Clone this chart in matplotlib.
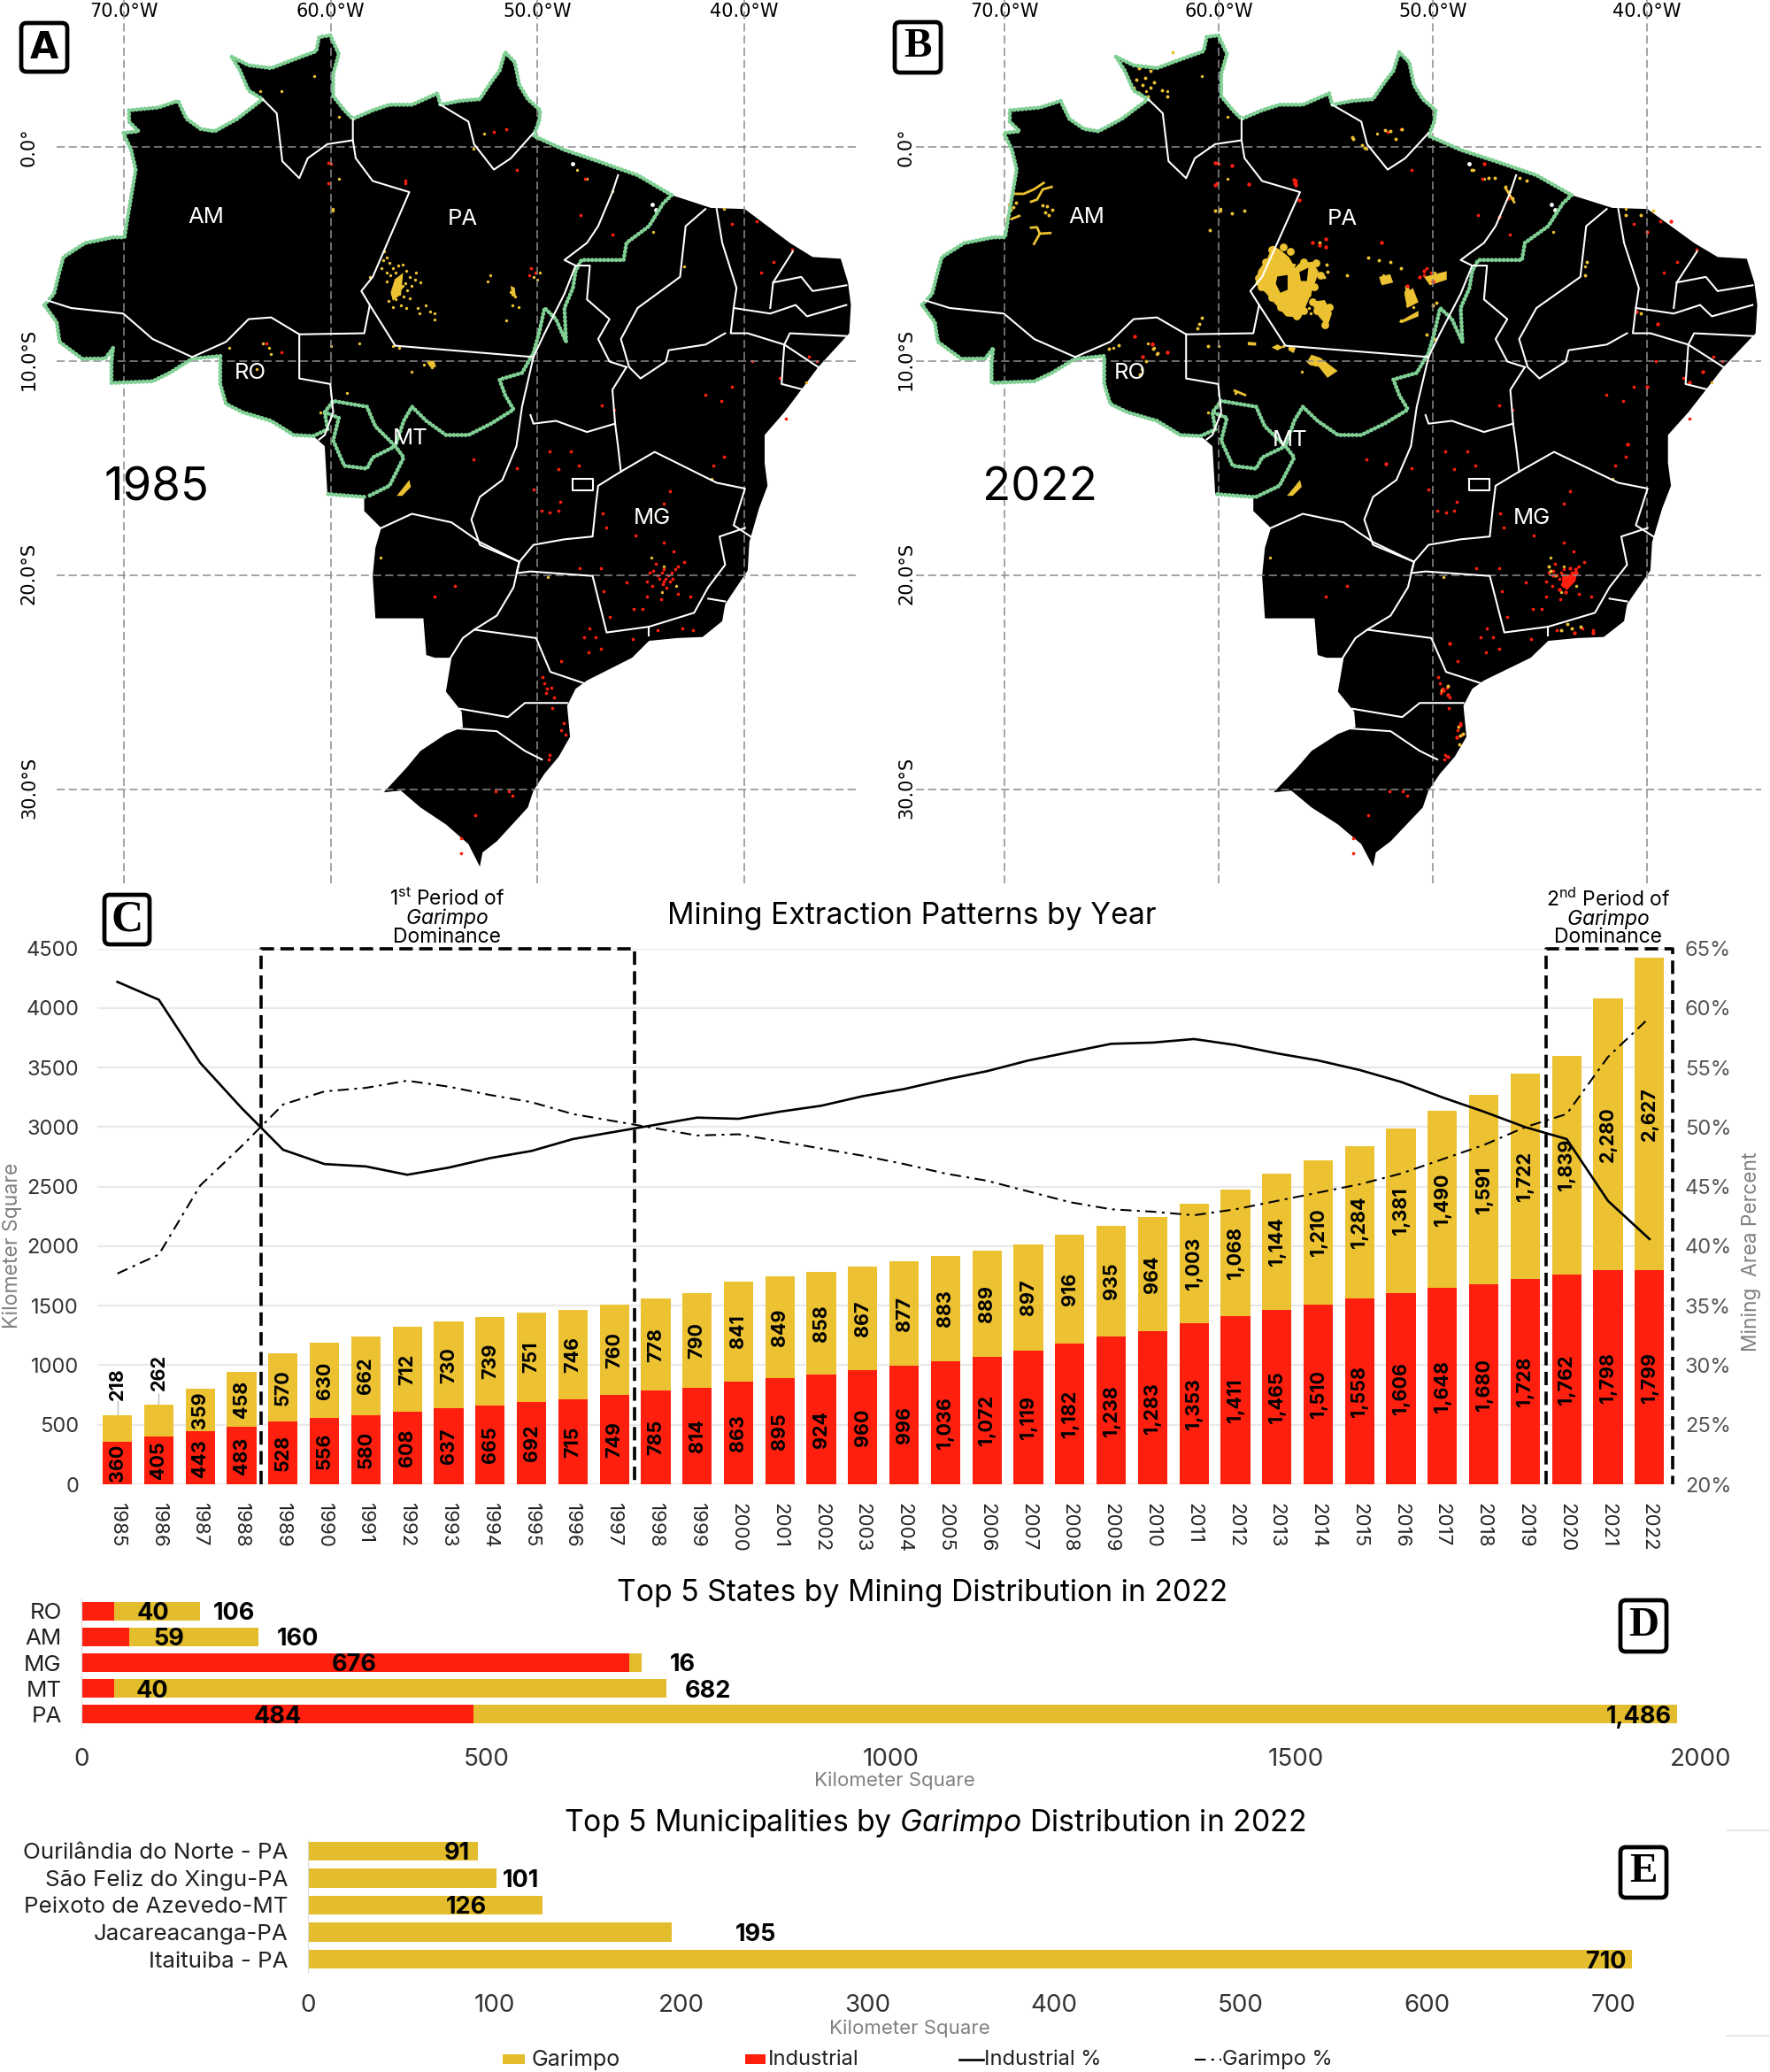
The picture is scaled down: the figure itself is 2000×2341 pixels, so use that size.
import matplotlib
matplotlib.use('Agg')
import matplotlib.pyplot as plt
from matplotlib.patches import FancyBboxPatch

plt.rcParams['font.family'] = ['Inter', 'DejaVu Sans']
plt.rcParams['mathtext.fontset'] = 'custom'
plt.rcParams['mathtext.rm'] = 'Inter'
plt.rcParams['mathtext.it'] = 'Inter:italic'
plt.rcParams['mathtext.bf'] = 'Inter:bold'

W, H = 2000, 2341
YELLOW = '#ECC232'
YELLOW2 = '#E3BD2D'
RED = '#FF1F0E'
GREEN = '#80CF94'
GRAY = '#808080'

# ---------- chart C data
years = list(range(1985, 2023))
industrial = [360, 405, 443, 483, 528, 556, 580, 608, 637, 665, 692, 715, 749, 785, 814, 863, 895, 924, 960,
              996, 1036, 1072, 1119, 1182, 1238, 1283, 1353, 1411, 1465, 1510, 1558, 1606, 1648, 1680, 1728,
              1762, 1798, 1799]
garimpo = [218, 262, 359, 458, 570, 630, 662, 712, 730, 739, 751, 746, 760, 778, 790, 841, 849, 858, 867,
           877, 883, 889, 897, 916, 935, 964, 1003, 1068, 1144, 1210, 1284, 1381, 1490, 1591, 1722,
           1839, 2280, 2627]
industrial_pct = [62.2, 60.7, 55.4, 51.6, 48.1, 46.9, 46.7, 46.0, 46.6, 47.4, 48.0, 49.0, 49.6, 50.2, 50.8,
                  50.7, 51.3, 51.8, 52.6, 53.2, 54.0, 54.7, 55.6, 56.3, 57.0, 57.1, 57.4, 56.9, 56.2, 55.6,
                  54.8, 53.8, 52.5, 51.3, 50.0, 49.0, 43.8, 40.6]
garimpo_pct = [37.7, 39.3, 45.1, 48.4, 51.9, 53.0, 53.3, 53.9, 53.4, 52.7, 52.1, 51.1, 50.5, 49.9, 49.3,
               49.4, 48.8, 48.2, 47.6, 46.9, 46.1, 45.5, 44.6, 43.7, 43.1, 42.9, 42.6, 43.1, 43.8, 44.5,
               45.2, 46.1, 47.3, 48.5, 50.0, 51.1, 55.9, 59.2]

# ---------- charts D, E data
states = ['PA', 'MT', 'MG', 'AM', 'RO']
state_industrial = [484, 40, 676, 59, 40]
state_garimpo = [1486, 682, 16, 160, 106]
state_ind_label_x = [242, 87, 337, 108, 88]
state_gar_label_x = [1923, 774, 743, 267, 188]

municipalities = ['Itaituiba - PA', 'Jacareacanga-PA', 'Peixoto de Azevedo-MT', 'São Feliz do Xingu-PA',
                  'Ourilândia do Norte - PA']
muni_garimpo = [710, 195, 126, 101, 91]
muni_label_x = [696, 240, 85, 114, 80]

# ---------- map data, lon/lat
brazil_outline = [
    (-73.85, -7.4), (-73.38, -6.88), (-73.11, -5.82), (-72.92, -5.16), (-71.88, -4.51), (-70.52, -4.24), (-69.97, -4.24),
    (-69.84, -3.45), (-69.43, -1.08), (-69.65, -0.16), (-70.03, 0.63), (-69.29, 0.71), (-69.75, 1.16), (-69.75, 1.69),
    (-68.34, 1.82), (-67.38, 2.13), (-66.97, 1.29), (-66.29, 0.82), (-65.61, 0.71), (-64.52, 1.29), (-63.29, 2.21),
    (-63.97, 2.61), (-64.38, 3.53), (-64.79, 4.19), (-63.97, 3.79), (-62.88, 3.66), (-61.79, 4.06), (-60.7, 4.45),
    (-60.56, 5.11), (-60.02, 5.19), (-59.61, 4.32), (-59.88, 3.4), (-59.88, 2.35), (-59.34, 1.69), (-58.93, 1.29),
    (-57.97, 1.69), (-57.16, 1.95), (-56.07, 1.95), (-54.84, 2.48), (-54.7, 1.95), (-53.75, 2.13), (-52.79, 2.21),
    (-52.25, 3.0), (-51.84, 3.53), (-51.57, 4.4), (-51.1, 3.93), (-50.88, 2.87), (-50.47, 2.21), (-49.87, 1.69),
    (-49.93, 1.16), (-50.2, 0.5), (-48.7, -0.16), (-47.07, -0.69), (-45.16, -1.34), (-43.52, -2.27), (-41.61, -2.87),
    (-39.98, -2.92), (-37.79, -4.51), (-36.7, -5.16), (-35.34, -5.24), (-34.99, -6.35), (-34.85, -7.4), (-34.93, -8.72),
    (-36.43, -10.3), (-37.25, -11.36), (-38.07, -12.41), (-39.02, -13.47), (-39.02, -14.78), (-38.88, -15.84),
    (-39.29, -16.89), (-39.76, -18.47), (-39.84, -19.79), (-40.93, -21.37), (-41.07, -22.16), (-42.02, -22.9),
    (-43.25, -22.95), (-44.61, -23.08), (-45.43, -23.87), (-47.61, -24.93), (-48.16, -25.32), (-48.57, -26.11),
    (-48.43, -27.56), (-48.97, -28.48), (-49.66, -29.28), (-50.2, -30.07), (-50.47, -30.86), (-51.97, -32.44),
    (-52.66, -32.96), (-52.79, -33.62), (-53.34, -32.57), (-54.43, -31.65), (-55.66, -30.86), (-56.61, -30.07),
    (-57.43, -30.15), (-56.34, -29.01), (-55.66, -28.22), (-54.43, -27.43), (-53.61, -27.11), (-53.67, -26.38),
    (-54.43, -25.45), (-54.16, -23.87), (-54.97, -23.87), (-55.38, -23.74), (-55.52, -22.03), (-57.84, -22.03),
    (-57.97, -20.05), (-57.84, -18.74), (-57.56, -17.81), (-58.38, -17.02), (-58.38, -16.36), (-60.16, -16.23),
    (-60.29, -13.99), (-60.84, -13.52), (-61.79, -13.47), (-62.88, -12.81), (-64.25, -12.41), (-65.06, -12.02),
    (-65.34, -11.09), (-65.34, -9.78), (-66.7, -9.91), (-67.79, -10.57), (-68.61, -10.96), (-70.6, -11.04),
    (-70.6, -10.04), (-70.52, -9.4), (-70.9, -9.9), (-72.02, -9.91), (-73.11, -9.12), (-73.25, -8.2),
]
north_end = brazil_outline.index((-43.52, -2.27))
south_start = brazil_outline.index((-60.84, -13.52))

amazon_borders = [
    brazil_outline[:north_end + 1],
    brazil_outline[south_start:] + brazil_outline[:1],
    [(-60.84, -13.52), (-60.15, -13.2), (-60.29, -12.41)],
    [(-58.38, -16.36), (-60.16, -16.23)],
    [(-43.52, -2.27), (-43.93, -2.66), (-44.61, -3.72), (-45.7, -4.5), (-45.84, -5.3), (-47.88, -5.3),
     (-48.16, -5.82), (-48.29, -6.61), (-48.7, -7.54), (-48.62, -9.12), (-49.11, -8.06), (-49.66, -7.54),
     (-49.93, -8.72), (-50.2, -9.64), (-50.75, -10.57), (-51.84, -10.88), (-51.56, -11.62), (-51.16, -12.28),
     (-52.25, -12.94), (-53.34, -13.47), (-54.43, -13.47), (-55.38, -12.81), (-56.07, -12.15), (-56.47, -12.81),
     (-56.88, -13.99), (-56.47, -14.52), (-57.16, -15.84), (-58.25, -16.36)],
    [(-56.88, -13.99), (-57.97, -14.52), (-58.25, -15.04), (-59.34, -14.91), (-59.88, -13.73), (-59.61, -12.67),
     (-60.29, -12.41), (-59.88, -11.88), (-58.25, -12.15), (-57.84, -13.07), (-56.88, -13.99)],
]

state_borders = [
    [(-63.29, 2.21), (-62.61, 1.55), (-62.34, -0.69), (-61.52, -1.48), (-61.11, -0.55), (-60.16, 0.11),
     (-58.93, 0.29), (-58.93, 1.29)],
    [(-54.7, 1.95), (-53.34, 1.16), (-53.07, 0.11), (-52.11, -1.08), (-51.29, -0.55), (-50.2, 0.63)],
    [(-58.93, 0.29), (-58.79, -0.55), (-57.97, -1.61), (-56.2, -2.13), (-57.97, -6.09), (-58.52, -6.75),
     (-58.11, -7.4), (-58.38, -8.72), (-61.52, -8.77), (-62.88, -7.98), (-63.97, -8.06), (-65.06, -9.12),
     (-66.7, -9.83)],
    [(-73.85, -7.14), (-72.56, -7.54), (-70.03, -7.8), (-68.61, -8.99), (-66.7, -9.83)],
    [(-61.52, -8.77), (-61.52, -10.83), (-60.02, -11.09), (-59.88, -12.41), (-60.29, -13.47), (-60.56, -13.68)],
    [(-58.11, -7.4), (-56.88, -9.3), (-50.2, -9.83)],
    [(-50.2, -9.83), (-49.66, -8.72), (-48.7, -6.88), (-48.16, -5.56), (-48.7, -5.3), (-47.61, -4.5),
     (-47.07, -3.72), (-46.38, -2.13), (-46.11, -1.34)],
    [(-50.2, -9.83), (-50.75, -12.15), (-51.02, -13.99), (-51.7, -15.57), (-52.79, -16.36), (-53.2, -17.42),
     (-52.79, -18.6), (-50.88, -19.39)],
    [(-48.16, -5.56), (-47.47, -5.56), (-47.61, -7.14), (-46.52, -8.06), (-47.07, -8.99), (-46.52, -10.04),
     (-45.7, -10.3)],
    [(-41.88, -2.92), (-42.84, -3.72), (-43.11, -6.09), (-45.16, -7.54), (-45.97, -8.99), (-45.57, -10.3),
     (-45.02, -10.83), (-43.79, -10.04), (-43.66, -9.51), (-41.88, -9.25), (-40.93, -8.72)],
    [(-45.7, -10.3), (-46.38, -11.36), (-46.25, -12.94), (-46.11, -13.99), (-45.97, -15.18)],
    [(-50.34, -12.54), (-50.2, -12.94), (-49.11, -12.81), (-47.61, -13.33), (-46.25, -12.94)],
    [(-45.97, -15.18), (-44.34, -14.26), (-43.25, -14.78), (-41.34, -15.7), (-39.97, -15.97), (-40.52, -17.68),
     (-39.7, -18.21)],
    [(-45.97, -15.18), (-47.07, -15.84), (-47.2, -16.89), (-47.34, -18.21), (-48.7, -18.34), (-50.2, -18.6),
     (-50.88, -19.39), (-51.02, -19.92), (-50.34, -19.84), (-47.34, -20.05), (-46.66, -22.69), (-44.61, -22.42),
     (-42.43, -21.77), (-41.75, -20.58), (-40.93, -19.53), (-41.2, -18.21), (-39.97, -17.81)],
    [(-41.75, -21.11), (-40.93, -21.24)],
    [(-57.56, -17.81), (-56.07, -17.15), (-54.16, -17.55), (-52.79, -18.47), (-50.88, -19.39), (-51.16, -20.58),
     (-51.97, -21.9), (-53.06, -22.56), (-53.61, -22.95), (-54.29, -24.0)],
    [(-53.06, -22.56), (-50.07, -22.95), (-49.38, -24.53), (-47.75, -25.06)],
    [(-44.61, -22.82), (-44.61, -22.42)],
    [(-53.75, -26.25), (-51.43, -26.64), (-50.61, -25.98), (-48.57, -25.98)],
    [(-53.88, -27.17), (-51.97, -27.3), (-50.61, -28.22), (-49.79, -28.62)],
    [(-41.34, -2.92), (-41.07, -4.5), (-40.38, -6.61), (-40.52, -7.54), (-38.75, -7.8), (-37.52, -7.4),
     (-36.97, -7.93), (-35.07, -7.4)],
    [(-37.66, -4.9), (-38.61, -6.35), (-38.75, -7.54)],
    [(-38.61, -6.35), (-37.25, -6.09), (-36.7, -6.75), (-35.07, -6.48)],
    [(-40.52, -7.54), (-40.66, -8.72), (-39.84, -8.72), (-38.07, -9.25), (-36.43, -10.3)],
    [(-38.07, -9.25), (-37.8, -8.72), (-35.07, -8.85)],
    [(-38.07, -9.25), (-38.2, -11.09), (-37.11, -11.36)],
    [(-48.29, -15.52), (-47.34, -15.52), (-47.34, -16.05), (-48.29, -16.05), (-48.29, -15.52)],
]

yellow_1985 = [(-57.43, -4.9), (-57.16, -5.43), (-57.56, -5.69), (-56.75, -5.56), (-56.34, -5.82), (-55.93, -6.22),
               (-55.66, -6.35), (-56.88, -6.22), (-56.61, -6.61), (-57.02, -6.88), (-56.47, -7.0), (-56.88, -7.14),
               (-56.34, -7.54), (-55.79, -7.54), (-54.97, -8.06), (-58.1, -6.09), (-57.3, -5.2), (-57.0, -5.7),
               (-56.6, -6.1), (-56.4, -6.4), (-56.9, -6.6), (-56.7, -6.9), (-56.5, -6.5), (-55.9, -5.9),
               (-57.3, -6.3), (-57.2, -7.2), (-55.2, -7.7), (-55.4, -7.4), (-57.45, -5.3), (-57.3, -5.9),
               (-57.1, -6.0), (-56.85, -5.9), (-56.5, -5.5), (-56.2, -6.1), (-56.1, -6.5), (-56.3, -6.7),
               (-56.2, -7.1), (-56.6, -7.4), (-57.0, -7.5), (-55.7, -7.8), (-55.0, -7.8), (-52.3, -6.0), (-52.4, -6.3),
               (-51.3, -6.8), (-51.1, -7.0), (-51.2, -7.4), (-50.9, -7.5), (-51.5, -8.1), (-50.2, -6.1),
               (-49.9, -5.9), (-50.0, -6.2), (-57.0, -9.3), (-56.7, -9.4), (-55.3, -10.0), (-55.1, -10.3),
               (-55.5, -10.2), (-56.1, -10.5), (-64.9, -9.4), (-63.0, -9.4), (-62.9, -9.7), (-63.3, -9.2),
               (-63.6, -10.4), (-60.0, -9.3), (-58.6, -9.2), (-59.2, -11.5), (-59.6, -1.5), (-59.9, -2.9),
               (-59.9, -3.0), (-60.8, 3.3), (-62.4, 2.6), (-63.4, 2.6), (-59.6, 1.4), (-52.6, 0.6), (-53.1, -0.1),
               (-46.4, -2.1), (-47.6, -1.5), (-48.1, -1.1), (-42.9, -5.6), (-44.4, -4.0), (-41.0, -2.9),
               (-37.0, -11.0), (-57.6, -19.2), (-60.5, -12.4), (-49.5, -20.1), (-43.9, -19.6), (-44.5, -19.2),
               (-44.0, -20.8), (-43.3, -20.5), (-41.6, -15.5)]
yellow_1985_blobs = [
    [(-56.81, -16.31), (-56.2, -15.57), (-56.12, -15.89), (-56.54, -16.31)],
    [(-56.9, -6.2), (-56.5, -5.9), (-56.6, -6.9), (-57.0, -7.2), (-57.1, -6.8)],
    [(-51.3, -6.5), (-51.1, -6.6), (-51.05, -7.0), (-51.25, -7.0)],
    [(-55.4, -10.0), (-55.0, -10.0), (-54.9, -10.3), (-55.2, -10.3)],
]
red_common = [(-43.82, -20.17), (-43.96, -20.44), (-43.75, -20.58), (-43.48, -20.17), (-43.34, -19.75), (-43.2, -19.61),
              (-44.3, -19.48), (-43.89, -19.75), (-44.44, -20.51), (-45.68, -20.37), (-46.92, -19.68), (-47.96, -19.68),
              (-46.79, -20.78), (-44.92, -21.61), (-44.03, -21.13), (-45.34, -21.61), (-43.89, -16.66), (-46.86, -17.14),
              (-45.27, -18.17), (-43.89, -18.51), (-43.41, -18.9), (-48.99, -15.08), (-48.37, -14.25), (-49.41, -14.25),
              (-44.58, -19.89), (-44.72, -20.3), (-42.92, -19.41), (-46.51, -21.95), (-47.48, -22.5), (-47.75, -22.92),
              (-47.2, -22.92), (-47.54, -23.6), (-46.92, -23.47), (-48.86, -24.02), (-49.75, -24.77), (-49.54, -25.32),
              (-49.2, -25.74), (-49.34, -25.25), (-49.61, -25.53), (-49.68, -25.05), (-49.27, -26.22), (-48.72, -26.91),
              (-48.86, -27.25), (-48.65, -27.46), (-49.41, -28.42), (-49.48, -28.62), (-52.03, -30.1), (-44.2, -20.0),
              (-44.0, -19.9), (-43.7, -20.0), (-43.6, -20.3), (-44.1, -20.2), (-43.9, -20.3), (-44.4, -19.8),
              (-43.5, -19.9), (-44.7, -21.0), (-43.2, -20.9), (-42.6, -21.0), (-43.0, -22.5), (-42.5, -22.6),
              (-44.2, -22.6), (-45.4, -23.0), (-48.0, -14.9), (-49.0, -17.0), (-50.2, -16.0), (-49.8, -17.0),
              (-49.4, -17.1), (-48.9, -16.6), (-50.1, -5.9), (-50.3, -5.7), (-50.4, -6.0), (-51.0, -1.1), (-52.1, 0.7),
              (-51.5, 0.8), (-47.9, -3.2), (-46.4, -4.1), (-47.7, -1.5), (-40.6, -11.2), (-41.1, -11.9), (-41.9, -11.6),
              (-39.6, -10.0), (-38.3, -10.8), (-36.9, -9.8), (-36.5, -10.0), (-38.0, -12.7), (-39.4, -3.5), (-38.6, -5.4),
              (-37.7, -4.8), (-39.2, -5.9), (-40.6, -3.6), (-46.3, -12.3), (-46.9, -12.1), (-41.0, -14.5), (-41.5, -14.9),
              (-51.0, -15.0), (-53.1, -14.6), (-56.4, -1.6), (-56.4, -1.7), (-60.1, -0.75), (-60.0, -0.8), (-60.1, -1.7),
              (-63.1, -9.2), (-62.4, -9.6), (-54.0, -20.5), (-55.0, -21.0), (-53.0, -31.2), (-53.7, -33.0), (-53.7, -32.3),
              (-51.4, -30.1), (-51.2, -30.3), (-43.6, -16.1), (-46.7, -17.8)]

red_2022 = [(-56.46, -1.7), (-56.5, -1.55), (-56.4, -1.8), (-56.23, -2.52), (-60.15, -0.76), (-59.4, -0.9), (-58.6, -1.75),
            (-60.15, -1.8), (-63.94, -8.86), (-63.09, -9.23), (-62.4, -9.61), (-63.57, -9.82), (-55.0, -4.3), (-55.3, -4.6),
            (-55.6, -4.5), (-55.0, -4.7), (-52.4, -4.5), (-51.2, -6.5), (-50.4, -5.8), (-50.0, -6.3), (-50.6, -6.1),
            (-47.6, -0.8), (-46.5, -2.4), (-46.9, -3.3), (-40.0, -4.0), (-38.9, -3.5), (-40.5, -7.7), (-39.5, -8.3),
            (-38.0, -11.0), (-37.4, -10.5), (-40.0, -11.2), (-40.9, -13.9), (-52.2, -14.8), (-43.9, -20.0), (-44.4, -20.0),
            (-43.3, -19.9), (-43.6, -19.7), (-44.1, -20.7), (-43.8, -20.8), (-49.2, -23.2), (-49.5, -25.4), (-49.3, -25.6),
            (-48.7, -27.0), (-48.9, -27.6), (-49.3, -28.5), (-42.5, -22.7), (-43.4, -22.7)]
yellow_2022 = [(-63.7, 3.66), (-63.18, 3.53), (-63.84, 3.14), (-63.57, 2.87), (-63.18, 2.74), (-62.65, 2.61), (-62.39, 2.35),
               (-63.31, 2.35), (-63.97, 2.74), (-62.13, 4.4), (-63.45, 3.2), (-63.0, 3.0), (-63.7, 2.5),
               (-68.21, -2.73), (-68.0, -2.8), (-67.75, -2.94), (-67.93, -3.21), (-68.1, -3.08), (-69.79, -2.69),
               (-69.45, -2.62), (-69.59, -2.83), (-69.72, -2.94), (-69.86, -3.31), (-52.25, 0.76), (-51.98, 0.71),
               (-51.72, 0.37), (-51.46, 0.82), (-53.17, -0.08), (-53.3, 0.05), (-53.78, 0.45), (-53.7, 0.35), (-46.45, -2.13),
               (-46.3, -2.4), (-46.6, -1.9), (-47.38, -1.48), (-47.1, -1.45), (-48.17, -1.08), (-45.93, -1.48), (-45.6, -1.6),
               (-65.11, -9.45), (-63.04, -9.45), (-62.84, -9.66), (-63.39, -10.0), (-63.66, -10.62), (-64.66, -9.28),
               (-55.3, -4.5), (-55.1, -6.1), (-54.95, -5.5), (-54.9, -5.85), (-54.0, -6.0), (-60.15, -3.0), (-59.95, -3.0),
               (-59.4, -3.1), (-58.8, -3.0), (-60.4, -3.9), (-61.0, -8.5), (-60.8, -8.0), (-60.9, -8.3), (-60.5, -9.3),
               (-53.0, -5.2), (-52.5, -5.3), (-52.0, -5.4), (-51.5, -5.7), (-51.0, -7.3), (-49.85, -7.3), (-50.0, -7.4),
               (-50.3, -8.8), (-49.9, -9.0), (-48.7, -27.5), (-48.8, -27.1), (-48.75, -27.9), (-48.6, -27.4), (-49.3, -25.2),
               (-49.6, -25.4), (-43.1, -22.4), (-43.5, -22.5), (-44.0, -22.6), (-43.7, -22.3), (-44.6, -19.6), (-44.5, -19.8),
               (-44.3, -20.0), (-40.3, -3.2), (-39.7, -3.0), (-41.0, -3.2), (-42.8, -5.4), (-42.9, -6.0), (-40.3, -7.8)]
yellow_2022_edge = [(-56.98, -4.69), (-56.64, -4.9), (-56.02, -5.38), (-55.47, -5.45), (-55.26, -6.0), (-55.54, -6.55),
                    (-55.88, -6.9), (-56.02, -7.66), (-56.36, -7.93), (-57.12, -7.52), (-57.53, -7.03), (-58.02, -6.55),
                    (-58.15, -6.14), (-57.81, -5.38), (-57.53, -4.83), (-57.12, -5.45), (-57.67, -6.14), (-57.05, -7.24),
                    (-55.61, -7.24), (-54.85, -7.52), (-55.05, -8.34), (-55.4, -7.66)]
yellow_2022_blobs = [
    # Tapajos
    [(-57.47, -4.62), (-57.74, -5.24), (-58.15, -5.79), (-58.29, -6.41), (-57.81, -6.83), (-57.4, -7.31), (-56.85, -7.93),
     (-56.16, -8.0), (-55.95, -7.52), (-55.61, -6.69), (-55.47, -6.28), (-55.33, -5.86), (-55.61, -5.38), (-56.23, -5.45),
     (-56.43, -5.66), (-56.71, -5.17), (-57.12, -4.83)],
    [(-55.61, -7.24), (-55.05, -7.17), (-54.71, -7.79), (-54.92, -8.41), (-55.33, -7.93), (-55.54, -7.59)],
    [(-55.88, -10.07), (-55.67, -9.72), (-55.26, -9.86), (-54.44, -10.48), (-54.92, -10.8), (-55.33, -10.28), (-55.74, -10.21)],
    [(-57.53, -9.38), (-57.26, -9.24), (-56.98, -9.38), (-57.26, -9.52)],
    [(-56.71, -9.3), (-56.4, -9.4), (-56.5, -9.65), (-56.75, -9.5)],
    [(-58.64, -9.12), (-58.25, -9.15), (-58.25, -9.3), (-58.6, -9.28)],
    [(-52.51, -6.09), (-51.99, -5.96), (-51.85, -6.35), (-52.38, -6.48)],
    [(-51.33, -6.88), (-50.93, -6.61), (-50.67, -7.27), (-51.2, -7.54)],
    [(-51.59, -8.19), (-50.67, -7.67), (-50.67, -7.93), (-51.46, -8.25)],
    [(-50.41, -6.09), (-49.35, -5.82), (-49.35, -6.22), (-50.14, -6.48)],
]
black_2022_holes = [
    [(-57.26, -6.07), (-56.78, -6.0), (-56.78, -6.69), (-57.12, -6.83), (-57.33, -6.41)],
    [(-56.23, -5.86), (-55.81, -5.66), (-55.88, -6.28), (-56.16, -6.28)],
]
red_2022_blobs = [[(-43.96, -20.03), (-43.48, -19.96), (-43.2, -19.55), (-43.34, -20.3), (-43.69, -20.65), (-43.96, -20.58)]]
rivers_2022 = [
    [(-69.52, -2.21), (-69.1, -2.21), (-68.62, -2.0), (-68.17, -1.7)],
    [(-68.76, -2.58), (-68.48, -2.48), (-68.21, -2.0), (-67.8, -1.89)],
    [(-69.66, -3.38), (-69.31, -3.24)],
    [(-68.76, -3.79), (-68.48, -3.77), (-68.35, -4.07), (-68.62, -4.55)],
    [(-68.35, -4.07), (-67.86, -4.04)],
    [(-59.25, -11.4), (-58.77, -11.6)],
    [(-46.6, -1.95), (-46.2, -2.6)],
]
lon_ticks = [-70, -60, -50, -40]
lat_ticks = [0, -10, -20, -30]


def px_axes(fig, left, top, right, bottom, **kw):
    return fig.add_axes([left / W, 1 - bottom / H, (right - left) / W, (bottom - top) / H], **kw)


def draw_map(fig, frame_l, x70, px_per_deg, late, grid_l, grid_r):
    ax = px_axes(fig, frame_l, 0, frame_l + 1000, 1000)
    ax.set_xlim(-70 + (frame_l - x70) / px_per_deg, -70 + (frame_l + 1000 - x70) / px_per_deg)
    ax.set_ylim(165.5 / 24.2 - 1000 / 24.2, 165.5 / 24.2)
    ax.axis('off')
    ax.fill(*zip(*brazil_outline), color='black', lw=0, zorder=1)
    # small gaps in the coast
    ax.scatter([-44.45, -44.3, -48.3], [-2.7, -2.95, -0.8], s=12, color='white', lw=0, zorder=2)
    for blob in yellow_1985_blobs:
        ax.fill(*zip(*blob), color=YELLOW, lw=0, zorder=3)
    ax.scatter(*zip(*yellow_1985), s=6, color=YELLOW, lw=0, zorder=3)
    ax.scatter(*zip(*red_common), s=7, color=RED, lw=0, zorder=3)
    if late:
        for blob in yellow_2022_blobs:
            ax.fill(*zip(*blob), color=YELLOW, lw=0, zorder=3)
        for blob in black_2022_holes:
            ax.fill(*zip(*blob), color='black', lw=0, zorder=3)
        for blob in red_2022_blobs:
            ax.fill(*zip(*blob), color=RED, lw=0, zorder=3)
        for line in rivers_2022:
            ax.plot(*zip(*line), color=YELLOW, lw=2, zorder=3)
        ax.scatter(*zip(*yellow_2022), s=8, color=YELLOW, lw=0, zorder=3)
        ax.scatter(*zip(*yellow_2022_edge), s=40, color=YELLOW, lw=0, zorder=3)
        ax.scatter(*zip(*red_2022), s=10, color=RED, lw=0, zorder=3)
    glon0 = -70 + (grid_l - x70) / px_per_deg
    glon1 = -70 + (grid_r - x70) / px_per_deg
    y0, y1 = ax.get_ylim()
    for lon in lon_ticks:
        ax.plot([lon, lon], [y0 + 0.1, y1], color='#8C8C8C', lw=1.1, ls=(0, (6, 3)), zorder=4)
    for lat in lat_ticks:
        ax.plot([glon0, glon1], [lat, lat], color='#8C8C8C', lw=1.1, ls=(0, (6, 3)), zorder=4)
    for line in amazon_borders:
        ax.plot(*zip(*line), color=GREEN, lw=3.4, ls=(0, (0.1, 0.85)), dash_capstyle='round', zorder=5, clip_on=False)
    for line in state_borders:
        ax.plot(*zip(*line), color='white', lw=1.5, zorder=6)
    for lon in lon_ticks:
        ax.text(lon, 6.32, f'{abs(lon):.1f}°W', family='DejaVu Sans', fontsize=15, ha='center', va='center')
    return ax


def letter_box(ov, left, top, right, bottom, letter, family='DejaVu Sans', size=30):
    ov.add_patch(FancyBboxPatch((left + 6, top + 6), right - left - 12, bottom - top - 12,
                                boxstyle='round,pad=5,rounding_size=6', fc='white', ec='black', lw=3.4, zorder=20))
    ov.text((left + right) / 2, (top + bottom) / 2, letter, family=family, weight='bold', fontsize=size,
            ha='center', va='center', zorder=21)


def main():
    fig = plt.figure(figsize=(W / 100, H / 100), dpi=100)

    draw_map(fig, 0, 140, 23.37, False, 64, 968)
    draw_map(fig, 1000, 1135, 24.2, True, 1035, 1990)

    # ---------- chart C
    ax = px_axes(fig, 110, 1071.7, 1890, 1677)
    x = list(range(len(years)))
    ax.bar(x, industrial, 0.71, color=RED, zorder=2)
    ax.bar(x, garimpo, 0.71, bottom=industrial, color=YELLOW, zorder=2)
    ax.set_xlim(-0.485, 37.56)
    ax.set_ylim(0, 4500)
    ax.set_yticks(range(0, 4501, 500))
    ax.grid(axis='y', color='#E9E9E9', lw=1.6, zorder=0)
    ax.set_axisbelow(True)
    ax.set_xticks(x)
    ax.set_xticklabels(years, rotation=-90, fontsize=16, color='#222222')
    ax.tick_params(axis='both', length=0)
    ax.tick_params(axis='x', pad=15)
    ax.tick_params(axis='y', labelsize=17, labelcolor='#333333', pad=15)
    for s in ax.spines.values():
        s.set_visible(False)

    for i in x:
        a, b = industrial[i], garimpo[i]
        ax.text(i, a / 2, f'{a:,}', rotation=90, ha='center', va='center', fontsize=15.5, weight='bold', zorder=6)
        by = a + b / 2
        if i == 0:
            by = 843
            ax.plot([i, i], [a + b, 700], color='#BBBBBB', lw=1, zorder=1)
        if i == 1:
            by = 937
            ax.plot([i, i], [a + b, 760], color='#BBBBBB', lw=1, zorder=1)
        ax.text(i, by, f'{b:,}', rotation=90, ha='center', va='center', fontsize=15.5, weight='bold', zorder=6)

    ax2 = ax.twinx()
    ax2.set_ylim(20, 65)
    ax2.set_yticks(range(20, 66, 5))
    ax2.set_yticklabels([f'{v}%' for v in range(20, 66, 5)], fontsize=17, color='#555555')
    ax2.tick_params(axis='y', length=0, pad=10)
    for s in ax2.spines.values():
        s.set_visible(False)
    ax2.plot(x, industrial_pct, color='black', lw=1.9, zorder=5)
    ax2.plot(x, garimpo_pct, color='black', lw=1.5, ls=(0, (6, 3, 1.5, 3)), zorder=5)

    # dominance periods
    for x0, x1 in [(3.47, 12.49), (34.5, 37.55)]:
        ax2.plot([x0, x0, x1, x1], [20, 65, 65, 20], color='black', lw=2.6, ls=(0, (4.2, 2)), zorder=7, clip_on=False)

    # ---------- chart D
    ax_d = px_axes(fig, 92, 1806, 92 + 2000 * 0.915, 1951)
    ypos = list(range(len(states)))
    ax_d.barh(ypos, state_industrial, 0.72, color=RED)
    ax_d.barh(ypos, state_garimpo, 0.72, left=state_industrial, color=YELLOW2)
    ax_d.set_xlim(0, 2000)
    ax_d.set_ylim(-0.48, 4.48)
    ax_d.set_yticks(ypos)
    ax_d.set_yticklabels(states, fontsize=18.7, color='#222222')
    ax_d.set_xticks(range(0, 2001, 500))
    for i in ypos:
        ax_d.text(state_ind_label_x[i], i - 0.1, f'{state_industrial[i]:,}', ha='center', va='center', fontsize=19.5, weight='bold')
        ax_d.text(state_gar_label_x[i], i - 0.1, f'{state_garimpo[i]:,}', ha='center', va='center', fontsize=19.5, weight='bold')

    # ---------- chart E
    ax_e = px_axes(fig, 348, 2078.5, 348 + 750 * 2.107, 2228.5)
    ypos = list(range(len(municipalities)))
    ax_e.barh(ypos, muni_garimpo, 0.70, color=YELLOW2)
    ax_e.set_xlim(0, 750)
    ax_e.set_ylim(-0.49, 4.42)
    ax_e.set_yticks(ypos)
    ax_e.set_yticklabels(municipalities, fontsize=18.7, color='#222222')
    ax_e.set_xticks(range(0, 701, 100))
    for i in ypos:
        ax_e.text(muni_label_x[i], i - 0.1, f'{muni_garimpo[i]:,}', ha='center', va='center', fontsize=19.5, weight='bold')

    for a in (ax_d, ax_e):
        a.tick_params(axis='both', length=0)
        a.tick_params(axis='x', labelsize=20, labelcolor='#333333', pad=17.5)
        a.tick_params(axis='y', pad=16)
        for name, s in a.spines.items():
            s.set_visible(name == 'left')
            s.set_color('#DDDDDD')

    # ---------- text and boxes on top, in figure pixels
    ov = fig.add_axes([0, 0, 1, 1], zorder=30)
    ov.set_xlim(0, W)
    ov.set_ylim(H, 0)
    ov.axis('off')
    ov.patch.set_alpha(0)

    for xp in (33, 1024):
        for yp, label in [(166, '0.0°'), (406, '10.0°S'), (648, '20.0°S'), (890, '30.0°S')]:
            ov.text(xp, yp, label, rotation=90, family='DejaVu Sans', fontsize=15, ha='center', va='center')

    for coords in ([(233, 245), (523, 247), (283, 421), (464, 496), (737, 585)],
                   [(1228, 245), (1517, 247), (1277, 421), (1458, 497), (1731, 585)]):
        for n, (xp, yp) in zip(('AM', 'PA', 'RO', 'MT', 'MG'), coords):
            ov.text(xp, yp, n, color='white', fontsize=18.5, ha='center', va='center')
    ov.text(177, 552, '1985', fontsize=38, ha='center', va='center')
    ov.text(1175, 552, '2022', fontsize=38, ha='center', va='center')

    letter_box(ov, 23, 25, 77, 82, 'A', size=30)
    letter_box(ov, 1010, 24, 1064, 83, 'B', family='Liberation Serif', size=34)
    letter_box(ov, 117, 1010, 170, 1068, 'C', family='Liberation Serif', size=36)
    letter_box(ov, 1830, 1807, 1884, 1867, 'D', family='Liberation Serif', size=34)
    letter_box(ov, 1830, 2086, 1884, 2145, 'E', family='Liberation Serif', size=34)

    ov.text(1030, 1035, 'Mining Extraction Patterns by Year', fontsize=24.3, ha='center', va='center')
    ov.text(1042, 1800, 'Top 5 States by Mining Distribution in 2022', fontsize=24.3, ha='center', va='center')
    ov.text(1056, 2060, r'Top 5 Municipalities by $\mathit{Garimpo}$ Distribution in 2022', fontsize=24.3, ha='center', va='center')

    for cx, first, sup in [(505, '1', 'st'), (1817, '2', 'nd')]:
        ov.text(cx, 1037, rf'{first}$^{{\mathrm{{{sup}}}}}$ Period of' + '\n' + r'$\mathit{Garimpo}$' + '\nDominance',
                fontsize=16.5, ha='center', va='center', linespacing=0.8)

    ov.text(14, 1407, 'Kilometer Square', rotation=90, color=GRAY, fontsize=16.6, ha='center', va='center')
    ov.text(1979, 1414, 'Mining  Area Percent', rotation=90, color=GRAY, fontsize=16.4, ha='center', va='center')
    ov.text(1011, 2012, 'Kilometer Square', color=GRAY, fontsize=16, ha='center', va='center')
    ov.text(1028, 2292, 'Kilometer Square', color=GRAY, fontsize=16, ha='center', va='center')

    # legend
    ov.fill([568, 593, 593, 568], [2321, 2321, 2332, 2332], color=YELLOW2, lw=0)
    ov.text(600, 2327, 'Garimpo', fontsize=18, color='#222222', va='center')
    ov.fill([842, 865, 865, 842], [2321, 2321, 2332, 2332], color=RED, lw=0)
    ov.text(868, 2327, 'Industrial', fontsize=17, color='#222222', va='center')
    ov.plot([1084, 1111], [2327, 2327], color='black', lw=1.9)
    ov.text(1112, 2327, 'Industrial %', fontsize=17, color='#222222', va='center')
    ov.plot([1350, 1380], [2327, 2327], color='black', lw=1.5, ls=(0, (6, 3, 1.5, 3)))
    ov.text(1381, 2327, 'Garimpo %', fontsize=17, color='#222222', va='center')

    # stray marks at the right edge
    for yp in (2068, 2300):
        ov.plot([1951, 2000], [yp, yp], color='#E4E4E4', lw=1.2)

    fig.savefig('out.png', dpi=100, facecolor='white')


if __name__ == '__main__':
    main()
